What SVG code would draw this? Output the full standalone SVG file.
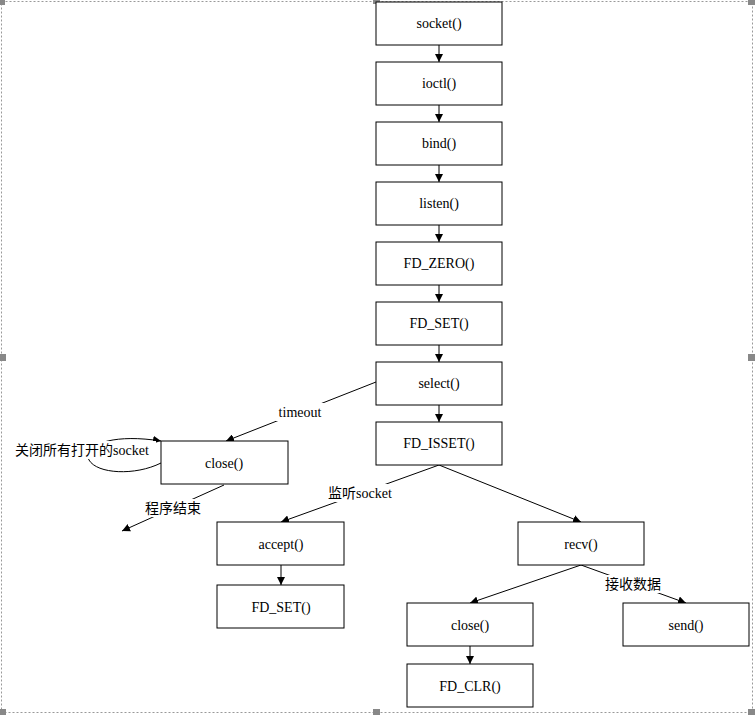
<svg xmlns="http://www.w3.org/2000/svg" width="755" height="715" viewBox="0 0 755 715">
<style>
.b{fill:#fff;stroke:#000;stroke-width:1}
text{font-family:"Liberation Serif","Noto Sans CJK SC",serif;font-size:14px;text-anchor:middle;dominant-baseline:central}
.c{stroke:#000;fill:none;stroke-width:1}
.l{fill:#fff}
.h{fill:#888}
</style>
<defs><marker id="a" viewBox="0 0 10 10" refX="10" refY="5" markerWidth="8" markerHeight="8" orient="auto" markerUnits="userSpaceOnUse"><path d="M0,0L10,5L0,10z" fill="#000"/></marker></defs>
<rect width="755" height="715" fill="#fff"/>
<rect x="1.5" y="1.5" width="751" height="711" fill="none" stroke="#999" stroke-dasharray="2,2"/>
<g class="h"><rect x="373" y="-1" width="7" height="5"/><rect x="373" y="709" width="7" height="6"/><rect x="0" y="354" width="6" height="7"/><rect x="748" y="354" width="7" height="7"/><rect x="0" y="709" width="6" height="6"/><rect x="748" y="709" width="7" height="6"/><rect x="0" y="0" width="5" height="5"/><rect x="748" y="0" width="7" height="5"/></g>
<g id="connectors">
<g class="c" marker-end="url(#a)">
<line x1="439" y1="45" x2="439" y2="62"/><line x1="439" y1="105" x2="439" y2="122"/><line x1="439" y1="165" x2="439" y2="182"/><line x1="439" y1="225" x2="439" y2="242"/><line x1="439" y1="285" x2="439" y2="302"/><line x1="439" y1="345" x2="439" y2="362"/><line x1="439" y1="405" x2="439" y2="422"/>
<line x1="376" y1="382" x2="226" y2="441"/>
<path d="M161,463C135,476 97,474 89,460C82,446 110,433 161,441"/>
<line x1="224" y1="485" x2="122" y2="531"/>
<line x1="439" y1="465" x2="281" y2="522"/>
<line x1="439" y1="465" x2="581" y2="522"/>
<line x1="281" y1="565" x2="281" y2="585"/>
<line x1="581" y1="565" x2="470" y2="603"/>
<line x1="581" y1="565" x2="686" y2="603"/>
<line x1="470" y1="646" x2="470" y2="664"/>
</g>
<rect class="l" x="275" y="403" width="50" height="18"/><text x="300" y="412">timeout</text>
<rect class="l" x="8" y="441" width="148" height="18"/><text x="82" y="450">关闭所有打开的socket</text>
<rect class="l" x="140" y="499" width="66" height="18"/><text x="173" y="508">程序结束</text>
<rect class="l" x="324" y="484" width="72" height="18"/><text x="360" y="493">监听socket</text>
<rect class="l" x="601" y="575" width="64" height="18"/><text x="633" y="584">接收数据</text>
</g>
<g id="n1"><rect class="b" x="376" y="2" width="126" height="43"/><text x="439" y="23">socket()</text></g>
<g id="n2"><rect class="b" x="376" y="62" width="126" height="43"/><text x="439" y="83">ioctl()</text></g>
<g id="n3"><rect class="b" x="376" y="122" width="126" height="43"/><text x="439" y="143">bind()</text></g>
<g id="n4"><rect class="b" x="376" y="182" width="126" height="43"/><text x="439" y="203">listen()</text></g>
<g id="n5"><rect class="b" x="376" y="242" width="126" height="43"/><text x="439" y="263">FD_ZERO()</text></g>
<g id="n6"><rect class="b" x="376" y="302" width="126" height="43"/><text x="439" y="323">FD_SET()</text></g>
<g id="n7"><rect class="b" x="376" y="362" width="126" height="43"/><text x="439" y="383">select()</text></g>
<g id="n8"><rect class="b" x="376" y="422" width="126" height="43"/><text x="439" y="443">FD_ISSET()</text></g>
<g id="n9"><rect class="b" x="161" y="441" width="127" height="43"/><text x="224" y="463">close()</text></g>
<g id="n10"><rect class="b" x="217" y="522" width="127" height="43"/><text x="281" y="544">accept()</text></g>
<g id="n11"><rect class="b" x="217" y="585" width="127" height="43"/><text x="281" y="607">FD_SET()</text></g>
<g id="n12"><rect class="b" x="518" y="522" width="126" height="43"/><text x="581" y="544">recv()</text></g>
<g id="n13"><rect class="b" x="407" y="603" width="126" height="43"/><text x="470" y="625">close()</text></g>
<g id="n14"><rect class="b" x="623" y="603" width="126" height="43"/><text x="686" y="625">send()</text></g>
<g id="n15"><rect class="b" x="407" y="664" width="126" height="43"/><text x="470" y="686">FD_CLR()</text></g>
</svg>
